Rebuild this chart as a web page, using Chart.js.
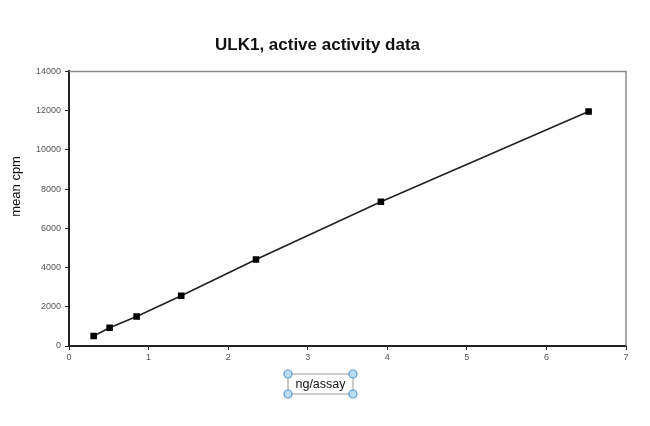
<!DOCTYPE html>
<html>
<head>
<meta charset="utf-8">
<script src="https://cdn.jsdelivr.net/npm/chart.js@4"></script>
<style>
  html, body { margin: 0; padding: 0; background: #fff; }
  #wrap { width: 650px; height: 426px; }
</style>
</head>
<body>
<div id="wrap"><canvas id="chart" width="650" height="426"></canvas></div>
<script>
const chartTitle = 'ULK1, active activity data';
const xAxisLabel = 'ng/assay';
const yAxisLabel = 'mean cpm';
const ngPerAssay = [0.31, 0.51, 0.85, 1.41, 2.35, 3.92, 6.53];
const meanCpm = [510, 930, 1500, 2560, 4410, 7350, 11960];
const xTicks = [0, 1, 2, 3, 4, 5, 6, 7];
const yTicks = [0, 2000, 4000, 6000, 8000, 10000, 12000, 14000];

const FONT = '"Liberation Sans", Arial, sans-serif';

// top/right frame of the plot, y title and the selected x-title box
const framePlugin = {
  id: 'frame',
  afterDraw(chart) {
    const { ctx, chartArea: a } = chart;
    ctx.save();
    ctx.strokeStyle = '#8a8a8a';
    ctx.lineWidth = 1.5;
    ctx.beginPath();
    ctx.moveTo(a.left, a.top);
    ctx.lineTo(a.right, a.top);
    ctx.lineTo(a.right, a.bottom);
    ctx.stroke();

    ctx.fillStyle = '#111';
    ctx.font = '13px ' + FONT;
    ctx.textAlign = 'center';
    ctx.textBaseline = 'middle';
    ctx.translate(16, a.top + 115);
    ctx.rotate(-Math.PI / 2);
    ctx.fillText(yAxisLabel, 0, 0);
    ctx.restore();

    // x title in a text box with selection handles
    ctx.save();
    const cx = 320.5, cy = a.bottom + 38;
    const w = 65, h = 20;
    const x0 = cx - w / 2, y0 = cy - h / 2;
    ctx.strokeStyle = '#9a9a9a';
    ctx.lineWidth = 1;
    ctx.strokeRect(x0, y0, w, h);
    ctx.fillStyle = '#111';
    ctx.font = '12.5px ' + FONT;
    ctx.textAlign = 'center';
    ctx.textBaseline = 'middle';
    ctx.fillText(xAxisLabel, cx, cy + 1);
    [[x0, y0], [x0 + w, y0], [x0, y0 + h], [x0 + w, y0 + h]].forEach(([hx, hy]) => {
      ctx.beginPath();
      ctx.arc(hx, hy, 4, 0, Math.PI * 2);
      ctx.fillStyle = '#bcdcf5';
      ctx.fill();
      ctx.strokeStyle = '#5b9bd5';
      ctx.lineWidth = 1.2;
      ctx.stroke();
    });
    ctx.restore();
  }
};

const ctx = document.getElementById('chart');
new Chart(ctx, {
  type: 'scatter',
  data: {
    datasets: [{
      data: ngPerAssay.map((x, i) => ({ x, y: meanCpm[i] })),
      showLine: true,
      borderColor: '#222',
      borderWidth: 1.6,
      pointStyle: 'rect',
      pointRadius: 3.5,
      pointBackgroundColor: '#000',
      pointBorderColor: '#000',
      tension: 0
    }]
  },
  options: {
    responsive: false,
    animation: false,
    layout: { padding: { top: 0, right: 24, bottom: 0, left: 9 } },
    plugins: {
      legend: { display: false },
      tooltip: { enabled: false },
      title: {
        display: true,
        text: chartTitle,
        color: '#111',
        font: { family: FONT, size: 17, weight: 'bold' },
        padding: { top: 35, bottom: 16 }
      }
    },
    scales: {
      x: {
        type: 'linear',
        min: 0,
        max: 7,
        afterBuildTicks: (s) => { s.ticks = xTicks.map(v => ({ value: v })); },
        afterFit: (s) => { s.height = 80; },
        grid: { display: true, drawOnChartArea: false, drawTicks: true, tickLength: 4, color: '#222' },
        border: { display: true, color: '#222', width: 2 },
        ticks: { color: '#555', font: { family: FONT, size: 9 }, padding: 2, maxRotation: 0 }
      },
      y: {
        type: 'linear',
        min: 0,
        max: 14000,
        afterBuildTicks: (s) => { s.ticks = yTicks.map(v => ({ value: v })); },
        afterFit: (s) => { s.width = 60; },
        grid: { display: true, drawOnChartArea: false, drawTicks: true, tickLength: 4, color: '#222' },
        border: { display: true, color: '#222', width: 2 },
        ticks: { color: '#555', font: { family: FONT, size: 9 }, padding: 4, callback: (v) => String(v) }
      }
    }
  },
  plugins: [framePlugin]
});
</script>
</body>
</html>
